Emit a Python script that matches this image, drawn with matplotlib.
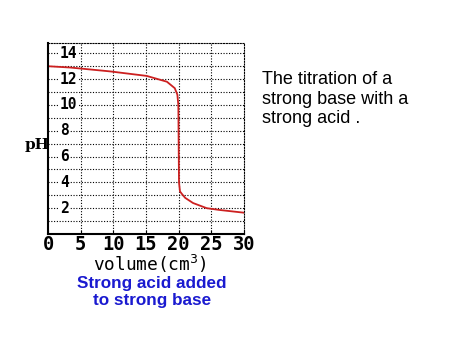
import matplotlib
matplotlib.use("Agg")
import matplotlib.pyplot as plt

# titration curve
volume = [0, 3.4, 9.5, 15.1, 18.2, 19.4, 19.8, 19.95, 20.0, 20.05, 20.2, 20.5, 21.0, 22.2, 24.3, 26.3, 30]
ph = [13.0, 12.9, 12.6, 12.25, 11.8, 11.3, 10.8, 10.0, 7.0, 4.0, 3.3, 3.1, 2.8, 2.4, 2.0, 1.86, 1.65]

x_ticks = [0, 5, 10, 15, 20, 25, 30]
y_ticks = [2, 4, 6, 8, 10, 12, 14]

mono = "DejaVu Sans Mono"

fig = plt.figure(figsize=(4.74, 3.55), dpi=100)
ax = fig.add_axes([48 / 474, 1 - 234 / 355, 196 / 474, 191 / 355])

ax.plot(volume, ph, color="#cc2020", lw=1.3)
ax.set_xlim(0, 30)
ax.set_ylim(0, 14.8)

# dotted grid
for y in range(1, 15):
    ax.axhline(y, color="black", lw=0.8, ls=(0, (1, 1.5)), zorder=0)
for x in [5, 10, 15, 20, 25]:
    ax.axvline(x, color="black", lw=0.8, ls=(0, (1, 1.5)), zorder=0)

ax.spines["top"].set_linestyle((0, (1, 1.5)))
ax.spines["right"].set_linestyle((0, (1, 1.5)))
ax.spines["top"].set_linewidth(0.8)
ax.spines["right"].set_linewidth(0.8)
ax.spines["left"].set_linewidth(1.5)
ax.spines["bottom"].set_linewidth(1.5)

ax.set_xticks(x_ticks)
ax.set_xticklabels([str(v) for v in x_ticks], fontfamily=mono, fontweight="bold", fontsize=13.5)
ax.tick_params(axis="x", direction="in", length=3, pad=1)

ax.set_yticks([])
for y in y_ticks:
    ax.text(1.8, y, str(y), fontfamily=mono, fontweight="bold", fontsize=10.5,
            va="center", ha="left",
            bbox=dict(facecolor="white", edgecolor="none", pad=0.3))

fig.text(37 / 474, 1 - 145 / 355, "pH", fontfamily="DejaVu Serif", fontweight="bold",
         fontsize=11, ha="center", va="center")
fig.text(150 / 474, 1 - 264 / 355, "volume(cm$^3$)", fontfamily=mono,
         fontsize=12.8, ha="center", va="center")
fig.text(152 / 474, 1 - 292 / 355, "Strong acid added\nto strong base",
         fontfamily="Liberation Sans", fontweight="bold", fontsize=12.3,
         color="#1a1ad0", ha="center", va="center", linespacing=1.12)

fig.text(262 / 474, 1 - 99 / 355, "The titration of a\nstrong base with a\nstrong acid .",
         fontfamily="Liberation Sans", fontsize=13, ha="left", va="center",
         linespacing=1.22)

fig.savefig("out.png", dpi=100)
